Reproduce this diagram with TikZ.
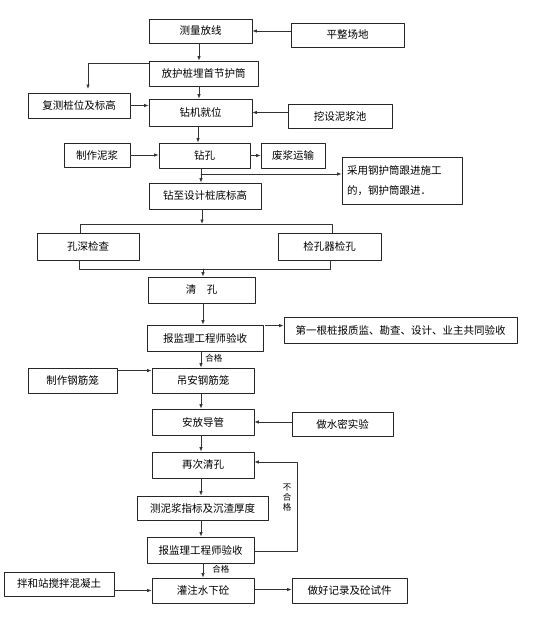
\documentclass[tikz,border=0pt]{standalone}
\usepackage{fontspec}
\setmainfont{Noto Sans CJK SC}
\usetikzlibrary{arrows.meta}
\begin{document}
\begin{tikzpicture}[x=1pt,y=-1pt,line cap=round,line join=round,
    stepbox/.style={draw=black!85,line width=0.8pt,inner sep=1pt,font=\fontsize{10.5}{12}\selectfont},
    flow/.style={draw=black!80,line width=0.75pt,-{Latex[length=4.5pt,width=3.5pt]}},
    plain/.style={draw=black!80,line width=0.75pt},
    tag/.style={font=\fontsize{8.5}{9.5}\selectfont,inner sep=0pt}]
  \useasboundingbox (0,0) rectangle (549,618);

  % main column
  \node[stepbox,minimum width=103,minimum height=24] (celiang) at (200.5,31) {测量放线};
  \node[stepbox,minimum width=109,minimum height=25] (huzhuang) at (203.5,73.5) {放护桩埋首节护筒};
  \node[stepbox,minimum width=103,minimum height=27] (jiuwei) at (200.5,112.5) {钻机就位};
  \node[stepbox,minimum width=91,minimum height=25] (zuankong) at (204.5,155.5) {钻孔};
  \node[stepbox,minimum width=112,minimum height=26] (zhongdi) at (205,196) {钻至设计桩底标高};
  \node[stepbox,minimum width=107,minimum height=26] (qingkong) at (201.5,290) {清\quad 孔};
  \node[stepbox,minimum width=116,minimum height=26] (yanshouA) at (205,338) {报监理工程师验收};
  \node[stepbox,minimum width=102,minimum height=25] (diaoan) at (203,380.5) {吊安钢筋笼};
  \node[stepbox,minimum width=102,minimum height=26] (daoguan) at (203,422) {安放导管};
  \node[stepbox,minimum width=102,minimum height=26] (zaici) at (203,465) {再次清孔};
  \node[stepbox,minimum width=131,minimum height=24] (nijiang) at (202.5,508) {测泥浆指标及沉渣厚度};
  \node[stepbox,minimum width=107,minimum height=26] (yanshouB) at (200.5,550) {报监理工程师验收};
  \node[stepbox,minimum width=102,minimum height=25] (guanzhu) at (203,590.5) {灌注水下砼};

  % side boxes
  \node[stepbox,minimum width=113,minimum height=24] (pingzheng) at (347.5,35) {平整场地};
  \node[stepbox,minimum width=102,minimum height=25] (fuce) at (79,105.5) {复测桩位及标高};
  \node[stepbox,minimum width=104,minimum height=24] (wachi) at (340,116) {挖设泥浆池};
  \node[stepbox,minimum width=66,minimum height=24] (zhijiang) at (97,155) {制作泥浆};
  \node[stepbox,minimum width=64,minimum height=25] (feijiang) at (293,155.5) {废浆运输};
  \node[stepbox,minimum width=120,minimum height=47,align=left,text width=110,
        font=\fontsize{10.5}{20}\selectfont] (genjin) at (402,180.5) {采用钢护筒跟进施工\\的，钢护筒跟进．};
  \node[stepbox,minimum width=102,minimum height=27] (kongshen) at (88,246.5) {孔深检查};
  \node[stepbox,minimum width=103,minimum height=27] (jiankong) at (329.5,246.5) {检孔器检孔};
  \node[stepbox,minimum width=233,minimum height=26] (diyigen) at (400.5,330) {第一根桩报质监、勘查、设计、业主共同验收};
  \node[stepbox,minimum width=89,minimum height=25] (gangjin) at (72.5,380.5) {制作钢筋笼};
  \node[stepbox,minimum width=101,minimum height=24] (shuimi) at (342.5,424) {做水密实验};
  \node[stepbox,minimum width=110,minimum height=24] (banhe) at (59,584) {拌和站搅拌混凝土};
  \node[stepbox,minimum width=115,minimum height=25] (jilu) at (349.5,590.5) {做好记录及砼试件};

  % free ends of connectors
  \coordinate (fcin) at (88,89);
  \coordinate (genjinbr) at (201,174);
  \coordinate (splitT) at (202,224);
  \coordinate (splitB) at (203,269);
  \coordinate (loopR) at (297,551);

  % top part
  \draw[flow] (celiang.east -| pingzheng.west) -- (celiang.east);
  \draw[flow] ([xshift=-1.5pt]celiang.south) -- ([xshift=-1.5pt]celiang.south |- huzhuang.north);
  \draw[flow] ([yshift=-3pt]huzhuang.north west) -| (fcin);
  \draw[flow] (fuce.east) -- (fuce.east -| jiuwei.west);
  \draw[flow] ([xshift=-4.5pt]huzhuang.south) -- ([xshift=-4.5pt]huzhuang.south |- jiuwei.north);
  \draw[flow] (jiuwei.east -| wachi.west) -- (jiuwei.east);
  \draw[flow] ([xshift=-2.5pt]jiuwei.south) -- ([xshift=-2.5pt]jiuwei.south |- zuankong.north);
  \draw[flow] (zhijiang.east) -- (zhijiang.east -| zuankong.west);
  \draw[flow] (zuankong.east) -- (zuankong.east -| feijiang.west);
  \draw[flow] (genjinbr |- zuankong.south) -- (genjinbr |- zhongdi.north);
  \draw[flow] (genjinbr) -- (genjinbr -| genjin.west);

  % hole checks
  \draw[flow] (splitT |- zhongdi.south) -- (splitT);
  \draw[plain] (kongshen.north -| 80,0) -- (80,224) -- (332,224) -- (332,0 |- jiankong.north);
  \draw[plain] (kongshen.south -| 79,0) -- (79,269) -- (330,269) -- (330,0 |- jiankong.south);
  \draw[flow] (splitB) -- (splitB |- qingkong.north);
  \draw[flow] (splitB |- qingkong.south) -- (splitB |- yanshouA.north);
  \draw[flow] ([xshift=2pt,yshift=-1pt]yanshouA.north east) -- ([yshift=-1pt]yanshouA.north east -| diyigen.west);

  % cage and pipe
  \draw[flow] ([xshift=-4pt]yanshouA.south) -- ([xshift=-4pt]yanshouA.south |- diaoan.north)
    node[tag,right=4pt,pos=0.45] {合格};
  \draw[flow] ([yshift=-3pt]gangjin.north east) -- ([yshift=-3pt]gangjin.north east -| diaoan.west);
  \draw[flow] ([xshift=-2pt]diaoan.south) -- ([xshift=-2pt]diaoan.south |- daoguan.north);
  \draw[flow] (daoguan.east -| shuimi.west) -- (daoguan.east);
  \draw[flow] ([xshift=-2pt]daoguan.south) -- ([xshift=-2pt]daoguan.south |- zaici.north);
  \draw[flow] ([xshift=-2pt]zaici.south) -- ([xshift=-2pt]zaici.south |- nijiang.north);
  \draw[flow] ([xshift=-1.5pt]nijiang.south) -- ([xshift=-1.5pt]nijiang.south |- yanshouB.north);

  % check loop
  \draw[flow] (loopR -| yanshouB.east) -- (loopR) -- ([yshift=3pt]loopR |- zaici.east) -- ([yshift=3pt]zaici.east);
  \node[tag,align=center,font=\fontsize{8.5}{10}\selectfont] (buhege) at (287,498) {不\\合\\格};

  % concreting
  \draw[flow] (splitB |- yanshouB.south) -- (splitB |- guanzhu.north)
    node[tag,right=9pt,pos=0.4] {合格};
  \draw[flow] (guanzhu.west -| banhe.east) -- (guanzhu.west);
  \draw[flow] ([yshift=1pt]guanzhu.east) -- ([yshift=1pt]guanzhu.east -| jilu.west);
\end{tikzpicture}
\end{document}
